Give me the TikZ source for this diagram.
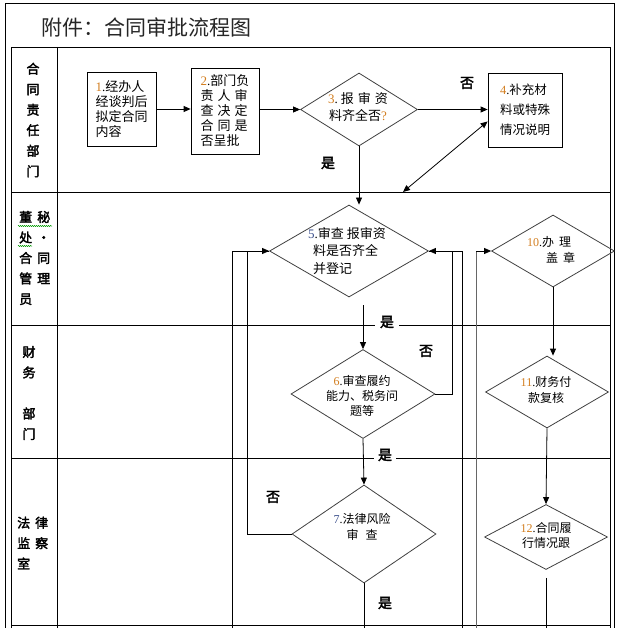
\documentclass[tikz,border=0pt]{standalone}
\usepackage{fontspec}
\setmainfont{Liberation Serif}
\newfontfamily\cjk[AutoFakeBold=2.5]{Noto Sans CJK SC}
\usepackage{tikz}
\usetikzlibrary{shapes.geometric,arrows.meta,decorations.pathmorphing}
\definecolor{numorange}{RGB}{210,125,30}
\definecolor{numblue}{RGB}{60,80,140}
\newcommand\stepno[1]{{\rmfamily\textcolor{numorange}{#1}.}}
\newcommand\stepnob[1]{{\rmfamily\textcolor{numblue}{#1}.}}
\newcommand\gap[1][5pt]{\hspace{#1}}

\begin{document}
\begin{tikzpicture}[x=1pt,y=-1pt,
  lane/.style={draw=black,line width=0.9pt},
  box/.style={draw,line width=0.8pt,inner sep=0pt,align=left},
  dia/.style={diamond,draw=black!75,line width=0.8pt,inner sep=0pt},
  diatxt/.style={align=center,inner sep=0pt,font=\cjk\fontsize{12}{16}\selectfont},
  arr/.style={line width=0.8pt,-{Triangle[length=7pt,width=6pt]}},
  yn/.style={font=\cjk\bfseries\fontsize{14}{14}\selectfont,inner sep=1pt},
  lanelbl/.style={font=\cjk\bfseries\fontsize{13}{20.5}\selectfont,align=left,inner sep=0pt}]
\useasboundingbox (0,0) rectangle (618,628);
\clip (0,0) rectangle (618,628);

\draw[lane] (5,640) -- (5,3) -- (614,3) -- (614,640);
\draw[lane] (11,640) -- (11,47) -- (610,47) -- (610,640);
\draw[lane] (57,47) -- (57,640);
\draw[lane] (11,192) -- (610,192);
\draw[lane] (11,325) -- (610,325);
\draw[lane] (11,458) -- (610,458);
\draw[lane] (11,625) -- (610,625);

\node[anchor=west,inner sep=0pt,font=\cjk\fontsize{21}{21}\selectfont,black!85] (title) at (41,27) {附件：合同审批流程图};

\node[lanelbl,align=center] (lane1) at (33,120) {合\\同\\责\\任\\部\\门};
\node[lanelbl,anchor=west] (lane2) at (19,258) {董\gap 秘\\处\gap ·\\合\gap 同\\管\gap 理\\员};
\node[lanelbl,align=center] (lane3) at (29,393) {财\\务\\~\\部\\门};
\node[lanelbl,anchor=west] (lane4) at (17,543) {法\gap 律\\监\gap 察\\室};
\draw[green!60!black,line width=0.5pt,decorate,decoration={snake,amplitude=0.6pt,segment length=2pt}] (18,226) -- (52,226);
\draw[green!60!black,line width=0.5pt,decorate,decoration={snake,amplitude=0.6pt,segment length=2pt}] (18,246) -- (32,246);

\node[box,minimum width=69pt,minimum height=74pt,font=\cjk\fontsize{13}{15}\selectfont] (b1) at (121.5,109) {\stepno{1}经办人\\经谈判后\\拟定合同\\内容};
\node[box,minimum width=68pt,minimum height=86pt,font=\cjk\fontsize{13}{15}\selectfont] (b2) at (225,111) {\stepno{2}部门负\\责\gap[4pt]人\gap[4pt]审\\查\gap[4pt]决\gap[4pt]定\\合\gap[4pt]同\gap[4pt]是\\否呈批};
\node[box,minimum width=74pt,minimum height=74pt,font=\cjk\fontsize{12.5}{20}\selectfont] (b4) at (525,110) {\stepno{4}补充材\\料或特殊\\情况说明};

\node[dia,minimum width=117pt,minimum height=73pt] (d3) at (359,109.5) {};
\node[diatxt,font=\cjk\fontsize{13}{17}\selectfont] (t3) at (358,107) {\stepno{3}\gap[3pt]报\gap[4pt]审\gap[4pt]资\\料齐全否{\rmfamily\textcolor{numorange}{?}}};
\node[dia,minimum width=159pt,minimum height=92pt] (d5) at (349,251) {};
\node[diatxt,align=left,font=\cjk\fontsize{13}{17.5}\selectfont] (t5) at (347,251) {\stepnob{5}审查\gap[3pt]报审资\\\gap[5pt]料是否齐全\\\gap[5pt]并登记};
\node[dia,minimum width=144pt,minimum height=89pt] (d6) at (363,394) {};
\node[diatxt,font=\cjk\fontsize{12}{15}\selectfont] (t6) at (362,396) {\stepno{6}审查履约\\能力、税务问\\题等};
\node[dia,minimum width=144pt,minimum height=98pt] (d7) at (364,534) {};
\node[diatxt] (t7) at (362,527) {\stepnob{7}法律风险\\审\gap[7pt]查};
\node[dia,minimum width=123pt,minimum height=72pt] (d10) at (553,251) {};
\node[diatxt,align=left] (t10) at (551,250) {\stepno{10}办\gap 理\\\gap[19pt]盖\gap 章};
\node[dia,minimum width=123pt,minimum height=72pt] (d11) at (547,392) {};
\node[diatxt] (t11) at (546,390) {\stepno{11}财务付\\款复核};
\node[dia,minimum width=123pt,minimum height=65pt] (d12) at (546,537) {};
\node[diatxt,font=\cjk\fontsize{12}{15}\selectfont] (t12) at (546,535) {\stepno{12}合同履\\行情况跟};

\node[yn] (no3) at (467,83) {否};
\node[yn] (yes3) at (328,163) {是};
\node[yn,fill=white,inner xsep=5pt] (yes5) at (387,322) {是};
\node[yn] (no6) at (426,351) {否};
\node[yn,fill=white,inner xsep=4pt] (yes6) at (385,455) {是};
\node[yn] (no7) at (273,497) {否};
\node[yn] (yes7) at (385,603) {是};

\coordinate (c4) at (403,192);
\coordinate (foot1) at (232,640);
\coordinate (foot2) at (462,640);
\coordinate (foot3) at (476,640);

\draw[arr] (b1.east) -- (b1.east -| b2.west);
\draw[arr] (b2.east |- d3.west) -- (d3.west);
\draw[arr] (d3.east) -- (d3.east -| b4.west);
\draw[arr] (d3.south) -- (d3.south |- d5.north);
\draw[line width=0.8pt,{Triangle[length=7pt,width=6pt]}-{Triangle[length=7pt,width=6pt]}] (b4.197) -- (c4);
\draw[arr] ([yshift=-8pt]d5.south -| d6.north) -- (d6.north);
\draw[line width=0.8pt] (foot2) |- (d5.east);
\draw[arr] (d6.east) -- ++(17,0) |- (d5.east);
\draw[line width=0.8pt] (foot1) |- (d5.west);
\draw[arr] (d7.west) -- ++(-44,0) |- (d5.west);
\draw[arr] (d6.south) -- (d7.north);
\draw[line width=0.8pt] (d7.south) -- (d7.south |- foot1);
\draw[line width=0.8pt,black!60] (foot3) -- (foot3 |- d10.west);
\draw[arr] (foot3 |- d10.west) -- (d10.west);
\draw[arr] (d10.south) -- (d10.south |- d11.north);
\draw[arr] (d11.south) -- (d12.north);
\draw[line width=0.8pt] ([yshift=-8pt]d12.south) -- (d12.south |- foot1);
\end{tikzpicture}
\end{document}
